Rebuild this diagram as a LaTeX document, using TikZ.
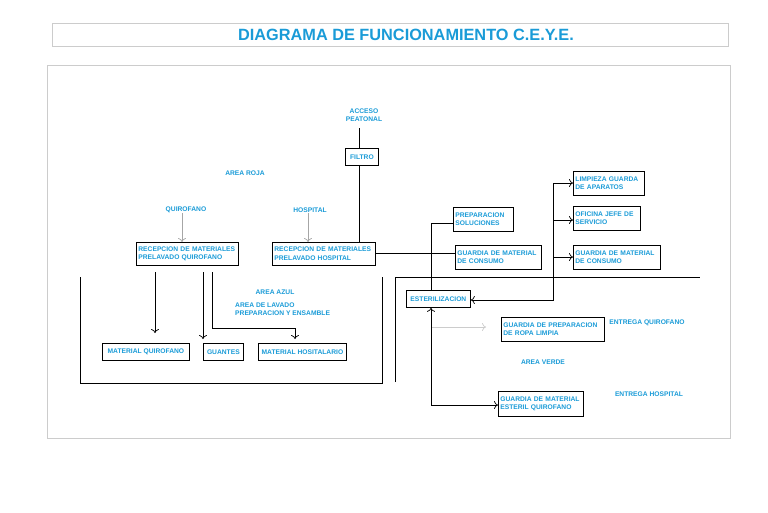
\documentclass[tikz,border=0pt]{standalone}
\usepackage{fontspec}
\setmainfont{Liberation Sans}
\usetikzlibrary{arrows.meta}
\definecolor{tblue}{HTML}{1A9BD7}
\begin{document}
\begin{tikzpicture}[x=1pt,y=-1pt,
  lbl/.style={text=tblue,font=\bfseries\fontsize{6.7}{8}\selectfont,inner sep=0pt,align=center},
  bx/.style={draw,line width=0.8pt,text=tblue,font=\bfseries\fontsize{6.7}{8.5}\selectfont,align=left,anchor=north west,inner sep=2pt},
  ln/.style={line width=0.7pt},
  ar/.style={line width=0.7pt,-{To[length=4pt,width=8pt]}},
  gar/.style={gray!70,line width=0.7pt,-{To[length=4pt,width=8pt]}}]
\useasboundingbox (0,0) rectangle (768,512);
\draw[gray!40] (52,23) rectangle (728,46);
\node[text=tblue,font=\bfseries\fontsize{16.3}{18}\selectfont] (title) at (406,35) {DIAGRAMA DE FUNCIONAMIENTO C.E.Y.E.};
\draw[gray!40] (47,65) rectangle (730,438);
% labels
\node[lbl] (acc) at (364,115) {ACCESO\\PEATONAL};
\node[lbl] (roja) at (245,173) {AREA ROJA};
\node[lbl] (quir) at (186,210) {QUIROFANO};
\node[lbl] (hosp) at (310,210) {HOSPITAL};
\node[lbl] (azul) at (275,292) {AREA AZUL};
\node[lbl,align=left,anchor=west] (lav) at (235,309) {AREA DE LAVADO\\PREPARACION Y ENSAMBLE};
\node[lbl] (entq) at (647,323) {ENTREGA QUIROFANO};
\node[lbl] (verde) at (543,362) {AREA VERDE};
\node[lbl] (enth) at (649,394) {ENTREGA HOSPITAL};
% boxes
\node[bx,minimum width=33pt,minimum height=17pt] (filtro) at (345,148) {FILTRO};
\node[bx,minimum width=102pt,minimum height=23pt,text width=98pt] (rq) at (136,242) {RECEPCION DE MATERIALES\\PRELAVADO QUIROFANO};
\node[bx,minimum width=103pt,minimum height=23pt,text width=99pt] (rh) at (272,242) {RECEPCION DE MATERIALES\\PRELAVADO HOSPITAL};
\node[bx,minimum width=87pt,minimum height=17pt] (mq) at (102,343) {MATERIAL QUIROFANO};
\node[bx,minimum width=40pt,minimum height=17pt] (gu) at (203,343) {GUANTES};
\node[bx,minimum width=88pt,minimum height=17pt] (mh) at (258,343) {MATERIAL HOSITALARIO};
\node[bx,minimum width=60pt,minimum height=24pt,text width=56pt] (ps) at (453,207) {PREPARACION\\SOLUCIONES};
\node[bx,minimum width=86pt,minimum height=24pt,text width=82pt] (gc1) at (455,245) {GUARDIA DE MATERIAL\\DE CONSUMO};
\node[bx,minimum width=71pt,minimum height=24pt,text width=67pt] (lim) at (573,171) {LIMPIEZA GUARDA\\DE APARATOS};
\node[bx,minimum width=67pt,minimum height=24pt,text width=63pt] (of) at (573,206) {OFICINA JEFE DE\\SERVICIO};
\node[bx,minimum width=87pt,minimum height=24pt,text width=83pt] (gc2) at (573,245) {GUARDIA DE MATERIAL\\DE CONSUMO};
\node[bx,minimum width=64pt,minimum height=17pt] (est) at (406,290) {ESTERILIZACION};
\node[bx,minimum width=103pt,minimum height=24pt,text width=99pt] (gr) at (501,317) {GUARDIA DE PREPARACION\\DE ROPA LIMPIA};
\node[bx,minimum width=85pt,minimum height=25pt,text width=81pt] (ge) at (498,391) {GUARDIA DE MATERIAL\\ESTERIL QUIROFANO};
% connectors
\draw[ln] (359,128) -- (filtro.north -| 359,0);
\draw[ln] (filtro.south -| 359,0) -- (rh.north -| 359,0);
\draw[gar] (quir.south -| 182,0) -- (rq.north -| 182,0);
\draw[gar] (hosp.south -| 308,0) -- (rh.north -| 308,0);
\draw[ln] (rh.east |- 0,253) -- (gc1.west |- 0,253);
\draw[ln] (ps.west |- 0,223) -| (est.north -| 431,0);
\draw[line width=0.7pt,{To[length=4pt,width=8pt]}-{To[length=4pt,width=8pt]}] (est.south -| 431,0) |- (ge.west |- 0,405);
\draw[ar] (553,183) |- (est.east |- 0,300);
\draw[ar] (553,183) -- (lim.west |- 0,183);
\draw[ar] (553,220) -- (of.west |- 0,220);
\draw[ar] (553,257) -- (gc2.west |- 0,257);
\draw[gar,gray!40] (432,327) -- (486,327);
\draw[ln] (395,382) |- (700,277);
\draw[ln] (80,277) |- (382,383) -- (382,277);
\draw[ar] (155,272) -- (155,333);
\draw[ar] (203,272) -- (203,339);
\draw[ar] (212,272) |- (295,328) -- (295,339);
\end{tikzpicture}
\end{document}
